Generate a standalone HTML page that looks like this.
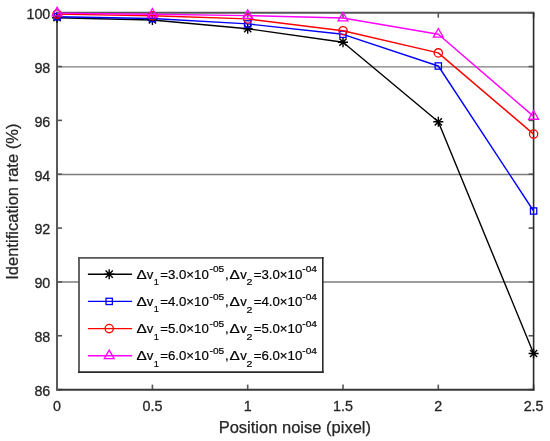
<!DOCTYPE html>
<html><head><meta charset="utf-8"><title>Identification rate vs position noise</title>
<style>html,body{margin:0;padding:0;background:#fff;width:550px;height:441px;overflow:hidden;position:relative}</style>
</head><body>
<svg width="550" height="441" viewBox="0 0 550 441" style="position:absolute;left:0;top:0">
<rect width="550" height="441" fill="#fff"/>
<line x1="57.1" y1="66.90" x2="533.6" y2="66.90" stroke="#7c7c7c" stroke-width="1.4"/>
<line x1="57.1" y1="174.50" x2="533.6" y2="174.50" stroke="#7c7c7c" stroke-width="1.4"/>
<line x1="57.1" y1="282.00" x2="533.6" y2="282.00" stroke="#7c7c7c" stroke-width="1.4"/>
<line x1="57.10" y1="389.6" x2="57.10" y2="384.6" stroke="#575757" stroke-width="1.6"/>
<line x1="57.10" y1="12.7" x2="57.10" y2="17.7" stroke="#575757" stroke-width="1.6"/>
<line x1="152.40" y1="389.6" x2="152.40" y2="384.6" stroke="#575757" stroke-width="1.6"/>
<line x1="152.40" y1="12.7" x2="152.40" y2="17.7" stroke="#575757" stroke-width="1.6"/>
<line x1="247.70" y1="389.6" x2="247.70" y2="384.6" stroke="#575757" stroke-width="1.6"/>
<line x1="247.70" y1="12.7" x2="247.70" y2="17.7" stroke="#575757" stroke-width="1.6"/>
<line x1="343.00" y1="389.6" x2="343.00" y2="384.6" stroke="#575757" stroke-width="1.6"/>
<line x1="343.00" y1="12.7" x2="343.00" y2="17.7" stroke="#575757" stroke-width="1.6"/>
<line x1="438.30" y1="389.6" x2="438.30" y2="384.6" stroke="#575757" stroke-width="1.6"/>
<line x1="438.30" y1="12.7" x2="438.30" y2="17.7" stroke="#575757" stroke-width="1.6"/>
<line x1="533.60" y1="389.6" x2="533.60" y2="384.6" stroke="#575757" stroke-width="1.6"/>
<line x1="533.60" y1="12.7" x2="533.60" y2="17.7" stroke="#575757" stroke-width="1.6"/>
<line x1="57.1" y1="389.60" x2="62.1" y2="389.60" stroke="#575757" stroke-width="1.6"/>
<line x1="533.6" y1="389.60" x2="528.6" y2="389.60" stroke="#575757" stroke-width="1.6"/>
<line x1="57.1" y1="335.76" x2="62.1" y2="335.76" stroke="#575757" stroke-width="1.6"/>
<line x1="533.6" y1="335.76" x2="528.6" y2="335.76" stroke="#575757" stroke-width="1.6"/>
<line x1="57.1" y1="281.91" x2="62.1" y2="281.91" stroke="#575757" stroke-width="1.6"/>
<line x1="533.6" y1="281.91" x2="528.6" y2="281.91" stroke="#575757" stroke-width="1.6"/>
<line x1="57.1" y1="228.07" x2="62.1" y2="228.07" stroke="#575757" stroke-width="1.6"/>
<line x1="533.6" y1="228.07" x2="528.6" y2="228.07" stroke="#575757" stroke-width="1.6"/>
<line x1="57.1" y1="174.23" x2="62.1" y2="174.23" stroke="#575757" stroke-width="1.6"/>
<line x1="533.6" y1="174.23" x2="528.6" y2="174.23" stroke="#575757" stroke-width="1.6"/>
<line x1="57.1" y1="120.39" x2="62.1" y2="120.39" stroke="#575757" stroke-width="1.6"/>
<line x1="533.6" y1="120.39" x2="528.6" y2="120.39" stroke="#575757" stroke-width="1.6"/>
<line x1="57.1" y1="66.54" x2="62.1" y2="66.54" stroke="#575757" stroke-width="1.6"/>
<line x1="533.6" y1="66.54" x2="528.6" y2="66.54" stroke="#575757" stroke-width="1.6"/>
<line x1="57.1" y1="12.70" x2="62.1" y2="12.70" stroke="#575757" stroke-width="1.6"/>
<line x1="533.6" y1="12.70" x2="528.6" y2="12.70" stroke="#575757" stroke-width="1.6"/>
<line x1="56.1" y1="12.85" x2="534.4" y2="12.85" stroke="#555555" stroke-width="2"/>
<line x1="56.1" y1="389.85" x2="534.4" y2="389.85" stroke="#383838" stroke-width="2"/>
<line x1="57.0" y1="11.7" x2="57.0" y2="390.6" stroke="#595959" stroke-width="2"/>
<line x1="533.6" y1="12.7" x2="533.6" y2="390.6" stroke="#2a2a2a" stroke-width="1.6"/>
<polyline points="57.10,17.70 152.40,20.00 247.70,28.70 343.00,42.20 438.30,121.80 533.60,353.50" stroke="#000000" stroke-width="1.4" fill="none" stroke-linejoin="round"/>
<path d="M52.10 17.70H62.10M57.10 12.70V22.70M53.50 14.10L60.70 21.30M53.50 21.30L60.70 14.10" stroke="#000000" stroke-width="1.4" fill="none"/>
<path d="M147.40 20.00H157.40M152.40 15.00V25.00M148.80 16.40L156.00 23.60M148.80 23.60L156.00 16.40" stroke="#000000" stroke-width="1.4" fill="none"/>
<path d="M242.70 28.70H252.70M247.70 23.70V33.70M244.10 25.10L251.30 32.30M244.10 32.30L251.30 25.10" stroke="#000000" stroke-width="1.4" fill="none"/>
<path d="M338.00 42.20H348.00M343.00 37.20V47.20M339.40 38.60L346.60 45.80M339.40 45.80L346.60 38.60" stroke="#000000" stroke-width="1.4" fill="none"/>
<path d="M433.30 121.80H443.30M438.30 116.80V126.80M434.70 118.20L441.90 125.40M434.70 125.40L441.90 118.20" stroke="#000000" stroke-width="1.4" fill="none"/>
<path d="M528.60 353.50H538.60M533.60 348.50V358.50M530.00 349.90L537.20 357.10M530.00 357.10L537.20 349.90" stroke="#000000" stroke-width="1.4" fill="none"/>
<polyline points="57.10,16.80 152.40,18.50 247.70,23.90 343.00,34.30 438.30,66.00 533.60,211.00" stroke="#0000ff" stroke-width="1.4" fill="none" stroke-linejoin="round"/>
<rect x="53.95" y="13.65" width="6.3" height="6.3" stroke="#0000ff" stroke-width="1.3" fill="none"/>
<rect x="149.25" y="15.35" width="6.3" height="6.3" stroke="#0000ff" stroke-width="1.3" fill="none"/>
<rect x="244.55" y="20.75" width="6.3" height="6.3" stroke="#0000ff" stroke-width="1.3" fill="none"/>
<rect x="339.85" y="31.15" width="6.3" height="6.3" stroke="#0000ff" stroke-width="1.3" fill="none"/>
<rect x="435.15" y="62.85" width="6.3" height="6.3" stroke="#0000ff" stroke-width="1.3" fill="none"/>
<rect x="530.45" y="207.85" width="6.3" height="6.3" stroke="#0000ff" stroke-width="1.3" fill="none"/>
<polyline points="57.10,14.10 152.40,15.70 247.70,18.90 343.00,30.70 438.30,52.90 533.60,134.10" stroke="#ff0000" stroke-width="1.4" fill="none" stroke-linejoin="round"/>
<circle cx="57.10" cy="14.10" r="4.15" stroke="#ff0000" stroke-width="1.3" fill="none"/>
<circle cx="152.40" cy="15.70" r="4.15" stroke="#ff0000" stroke-width="1.3" fill="none"/>
<circle cx="247.70" cy="18.90" r="4.15" stroke="#ff0000" stroke-width="1.3" fill="none"/>
<circle cx="343.00" cy="30.70" r="4.15" stroke="#ff0000" stroke-width="1.3" fill="none"/>
<circle cx="438.30" cy="52.90" r="4.15" stroke="#ff0000" stroke-width="1.3" fill="none"/>
<circle cx="533.60" cy="134.10" r="4.15" stroke="#ff0000" stroke-width="1.3" fill="none"/>
<polyline points="57.10,13.10 152.40,14.20 247.70,15.60 343.00,18.00 438.30,34.20 533.60,116.40" stroke="#ff00ff" stroke-width="1.4" fill="none" stroke-linejoin="round"/>
<path d="M57.10 7.37L62.05 15.97L52.15 15.97Z" stroke="#ff00ff" stroke-width="1.3" fill="none" stroke-linejoin="miter"/>
<path d="M152.40 8.47L157.35 17.07L147.45 17.07Z" stroke="#ff00ff" stroke-width="1.3" fill="none" stroke-linejoin="miter"/>
<path d="M247.70 9.87L252.65 18.47L242.75 18.47Z" stroke="#ff00ff" stroke-width="1.3" fill="none" stroke-linejoin="miter"/>
<path d="M343.00 12.27L347.95 20.87L338.05 20.87Z" stroke="#ff00ff" stroke-width="1.3" fill="none" stroke-linejoin="miter"/>
<path d="M438.30 28.47L443.25 37.07L433.35 37.07Z" stroke="#ff00ff" stroke-width="1.3" fill="none" stroke-linejoin="miter"/>
<path d="M533.60 110.67L538.55 119.27L528.65 119.27Z" stroke="#ff00ff" stroke-width="1.3" fill="none" stroke-linejoin="miter"/>
<text x="50.3" y="396.00" text-anchor="end" font-family="'Liberation Sans', Arial, Helvetica, sans-serif" font-size="14.3" fill="#262626" stroke="#262626" stroke-width="0.3">86</text>
<text x="50.3" y="342.16" text-anchor="end" font-family="'Liberation Sans', Arial, Helvetica, sans-serif" font-size="14.3" fill="#262626" stroke="#262626" stroke-width="0.3">88</text>
<text x="50.3" y="288.31" text-anchor="end" font-family="'Liberation Sans', Arial, Helvetica, sans-serif" font-size="14.3" fill="#262626" stroke="#262626" stroke-width="0.3">90</text>
<text x="50.3" y="234.47" text-anchor="end" font-family="'Liberation Sans', Arial, Helvetica, sans-serif" font-size="14.3" fill="#262626" stroke="#262626" stroke-width="0.3">92</text>
<text x="50.3" y="180.63" text-anchor="end" font-family="'Liberation Sans', Arial, Helvetica, sans-serif" font-size="14.3" fill="#262626" stroke="#262626" stroke-width="0.3">94</text>
<text x="50.3" y="126.79" text-anchor="end" font-family="'Liberation Sans', Arial, Helvetica, sans-serif" font-size="14.3" fill="#262626" stroke="#262626" stroke-width="0.3">96</text>
<text x="50.3" y="72.94" text-anchor="end" font-family="'Liberation Sans', Arial, Helvetica, sans-serif" font-size="14.3" fill="#262626" stroke="#262626" stroke-width="0.3">98</text>
<text x="50.3" y="19.10" text-anchor="end" font-family="'Liberation Sans', Arial, Helvetica, sans-serif" font-size="14.3" fill="#262626" stroke="#262626" stroke-width="0.3">100</text>
<text x="57.10" y="411" text-anchor="middle" font-family="'Liberation Sans', Arial, Helvetica, sans-serif" font-size="14.3" fill="#262626" stroke="#262626" stroke-width="0.3">0</text>
<text x="152.40" y="411" text-anchor="middle" font-family="'Liberation Sans', Arial, Helvetica, sans-serif" font-size="14.3" fill="#262626" stroke="#262626" stroke-width="0.3">0.5</text>
<text x="247.70" y="411" text-anchor="middle" font-family="'Liberation Sans', Arial, Helvetica, sans-serif" font-size="14.3" fill="#262626" stroke="#262626" stroke-width="0.3">1</text>
<text x="343.00" y="411" text-anchor="middle" font-family="'Liberation Sans', Arial, Helvetica, sans-serif" font-size="14.3" fill="#262626" stroke="#262626" stroke-width="0.3">1.5</text>
<text x="438.30" y="411" text-anchor="middle" font-family="'Liberation Sans', Arial, Helvetica, sans-serif" font-size="14.3" fill="#262626" stroke="#262626" stroke-width="0.3">2</text>
<text x="533.60" y="411" text-anchor="middle" font-family="'Liberation Sans', Arial, Helvetica, sans-serif" font-size="14.3" fill="#262626" stroke="#262626" stroke-width="0.3">2.5</text>
<text x="218.66" y="433.0" textLength="152.38" lengthAdjust="spacingAndGlyphs" font-family="'Liberation Sans', Arial, Helvetica, sans-serif" font-size="16.4" fill="#262626" stroke="#262626" stroke-width="0.25">Position noise (pixel)</text>
<text transform="translate(18.3,279.81) rotate(-90)" textLength="156.25" lengthAdjust="spacingAndGlyphs" font-family="'Liberation Sans', Arial, Helvetica, sans-serif" font-size="16.4" fill="#262626" stroke="#262626" stroke-width="0.25">Identification rate (%)</text>
<rect x="79.0" y="257.9" width="243.80" height="114.20" fill="#fff"/>
<line x1="78.1" y1="257.9" x2="323.6" y2="257.9" stroke="#555555" stroke-width="1.8"/>
<line x1="79.0" y1="257.0" x2="79.0" y2="373.0" stroke="#555555" stroke-width="1.8"/>
<line x1="322.8" y1="257.0" x2="322.8" y2="372.9" stroke="#2a2a2a" stroke-width="1.6"/>
<line x1="78.1" y1="372.1" x2="323.6" y2="372.1" stroke="#2a2a2a" stroke-width="1.6"/>
<line x1="87.9" y1="274.2" x2="132.1" y2="274.2" stroke="#000000" stroke-width="1.4"/>
<path d="M104.20 274.20H114.20M109.20 269.20V279.20M105.60 270.60L112.80 277.80M105.60 277.80L112.80 270.60" stroke="#000000" stroke-width="1.4" fill="none"/>
<text x="136.44" y="278.70" font-family="'Liberation Sans', Arial, Helvetica, sans-serif" font-size="13.1" fill="#000" stroke="#000" stroke-width="0.2" textLength="10.33" lengthAdjust="spacingAndGlyphs">Δ</text>
<text x="146.66" y="278.70" font-family="'Liberation Sans', Arial, Helvetica, sans-serif" font-size="13.1" fill="#000" stroke="#000" stroke-width="0.2">v</text>
<text x="153.80" y="285.10" font-family="'Liberation Sans', Arial, Helvetica, sans-serif" font-size="9.2" fill="#000" stroke="#000" stroke-width="0.2">1</text>
<text x="160.15" y="278.70" font-family="'Liberation Sans', Arial, Helvetica, sans-serif" font-size="13.1" fill="#000" stroke="#000" stroke-width="0.2" textLength="48.67" lengthAdjust="spacingAndGlyphs">=3.0×10</text>
<text x="209.55" y="272.30" font-family="'Liberation Sans', Arial, Helvetica, sans-serif" font-size="8.8" fill="#000" stroke="#000" stroke-width="0.2" textLength="14.68" lengthAdjust="spacingAndGlyphs">-05</text>
<text x="225.02" y="278.70" font-family="'Liberation Sans', Arial, Helvetica, sans-serif" font-size="13.1" fill="#000" stroke="#000" stroke-width="0.2">,</text>
<text x="229.64" y="278.70" font-family="'Liberation Sans', Arial, Helvetica, sans-serif" font-size="13.1" fill="#000" stroke="#000" stroke-width="0.2" textLength="10.33" lengthAdjust="spacingAndGlyphs">Δ</text>
<text x="240.16" y="278.70" font-family="'Liberation Sans', Arial, Helvetica, sans-serif" font-size="13.1" fill="#000" stroke="#000" stroke-width="0.2">v</text>
<text x="246.57" y="285.40" font-family="'Liberation Sans', Arial, Helvetica, sans-serif" font-size="9.2" fill="#000" stroke="#000" stroke-width="0.2" textLength="5.88" lengthAdjust="spacingAndGlyphs">2</text>
<text x="253.65" y="278.70" font-family="'Liberation Sans', Arial, Helvetica, sans-serif" font-size="13.1" fill="#000" stroke="#000" stroke-width="0.2" textLength="48.67" lengthAdjust="spacingAndGlyphs">=3.0×10</text>
<text x="302.35" y="272.30" font-family="'Liberation Sans', Arial, Helvetica, sans-serif" font-size="8.8" fill="#000" stroke="#000" stroke-width="0.2" textLength="14.68" lengthAdjust="spacingAndGlyphs">-04</text>
<line x1="87.9" y1="301.4" x2="132.1" y2="301.4" stroke="#0000ff" stroke-width="1.4"/>
<rect x="106.05" y="298.25" width="6.3" height="6.3" stroke="#0000ff" stroke-width="1.3" fill="none"/>
<text x="136.44" y="305.90" font-family="'Liberation Sans', Arial, Helvetica, sans-serif" font-size="13.1" fill="#000" stroke="#000" stroke-width="0.2" textLength="10.33" lengthAdjust="spacingAndGlyphs">Δ</text>
<text x="146.66" y="305.90" font-family="'Liberation Sans', Arial, Helvetica, sans-serif" font-size="13.1" fill="#000" stroke="#000" stroke-width="0.2">v</text>
<text x="153.80" y="312.30" font-family="'Liberation Sans', Arial, Helvetica, sans-serif" font-size="9.2" fill="#000" stroke="#000" stroke-width="0.2">1</text>
<text x="160.15" y="305.90" font-family="'Liberation Sans', Arial, Helvetica, sans-serif" font-size="13.1" fill="#000" stroke="#000" stroke-width="0.2" textLength="48.67" lengthAdjust="spacingAndGlyphs">=4.0×10</text>
<text x="209.55" y="299.50" font-family="'Liberation Sans', Arial, Helvetica, sans-serif" font-size="8.8" fill="#000" stroke="#000" stroke-width="0.2" textLength="14.68" lengthAdjust="spacingAndGlyphs">-05</text>
<text x="225.02" y="305.90" font-family="'Liberation Sans', Arial, Helvetica, sans-serif" font-size="13.1" fill="#000" stroke="#000" stroke-width="0.2">,</text>
<text x="229.64" y="305.90" font-family="'Liberation Sans', Arial, Helvetica, sans-serif" font-size="13.1" fill="#000" stroke="#000" stroke-width="0.2" textLength="10.33" lengthAdjust="spacingAndGlyphs">Δ</text>
<text x="240.16" y="305.90" font-family="'Liberation Sans', Arial, Helvetica, sans-serif" font-size="13.1" fill="#000" stroke="#000" stroke-width="0.2">v</text>
<text x="246.57" y="312.60" font-family="'Liberation Sans', Arial, Helvetica, sans-serif" font-size="9.2" fill="#000" stroke="#000" stroke-width="0.2" textLength="5.88" lengthAdjust="spacingAndGlyphs">2</text>
<text x="253.65" y="305.90" font-family="'Liberation Sans', Arial, Helvetica, sans-serif" font-size="13.1" fill="#000" stroke="#000" stroke-width="0.2" textLength="48.67" lengthAdjust="spacingAndGlyphs">=4.0×10</text>
<text x="302.35" y="299.50" font-family="'Liberation Sans', Arial, Helvetica, sans-serif" font-size="8.8" fill="#000" stroke="#000" stroke-width="0.2" textLength="14.68" lengthAdjust="spacingAndGlyphs">-04</text>
<line x1="87.9" y1="328.6" x2="132.1" y2="328.6" stroke="#ff0000" stroke-width="1.4"/>
<circle cx="109.20" cy="328.60" r="4.15" stroke="#ff0000" stroke-width="1.3" fill="none"/>
<text x="136.44" y="333.10" font-family="'Liberation Sans', Arial, Helvetica, sans-serif" font-size="13.1" fill="#000" stroke="#000" stroke-width="0.2" textLength="10.33" lengthAdjust="spacingAndGlyphs">Δ</text>
<text x="146.66" y="333.10" font-family="'Liberation Sans', Arial, Helvetica, sans-serif" font-size="13.1" fill="#000" stroke="#000" stroke-width="0.2">v</text>
<text x="153.80" y="339.50" font-family="'Liberation Sans', Arial, Helvetica, sans-serif" font-size="9.2" fill="#000" stroke="#000" stroke-width="0.2">1</text>
<text x="160.15" y="333.10" font-family="'Liberation Sans', Arial, Helvetica, sans-serif" font-size="13.1" fill="#000" stroke="#000" stroke-width="0.2" textLength="48.67" lengthAdjust="spacingAndGlyphs">=5.0×10</text>
<text x="209.55" y="326.70" font-family="'Liberation Sans', Arial, Helvetica, sans-serif" font-size="8.8" fill="#000" stroke="#000" stroke-width="0.2" textLength="14.68" lengthAdjust="spacingAndGlyphs">-05</text>
<text x="225.02" y="333.10" font-family="'Liberation Sans', Arial, Helvetica, sans-serif" font-size="13.1" fill="#000" stroke="#000" stroke-width="0.2">,</text>
<text x="229.64" y="333.10" font-family="'Liberation Sans', Arial, Helvetica, sans-serif" font-size="13.1" fill="#000" stroke="#000" stroke-width="0.2" textLength="10.33" lengthAdjust="spacingAndGlyphs">Δ</text>
<text x="240.16" y="333.10" font-family="'Liberation Sans', Arial, Helvetica, sans-serif" font-size="13.1" fill="#000" stroke="#000" stroke-width="0.2">v</text>
<text x="246.57" y="339.80" font-family="'Liberation Sans', Arial, Helvetica, sans-serif" font-size="9.2" fill="#000" stroke="#000" stroke-width="0.2" textLength="5.88" lengthAdjust="spacingAndGlyphs">2</text>
<text x="253.65" y="333.10" font-family="'Liberation Sans', Arial, Helvetica, sans-serif" font-size="13.1" fill="#000" stroke="#000" stroke-width="0.2" textLength="48.67" lengthAdjust="spacingAndGlyphs">=5.0×10</text>
<text x="302.35" y="326.70" font-family="'Liberation Sans', Arial, Helvetica, sans-serif" font-size="8.8" fill="#000" stroke="#000" stroke-width="0.2" textLength="14.68" lengthAdjust="spacingAndGlyphs">-04</text>
<line x1="87.9" y1="355.8" x2="132.1" y2="355.8" stroke="#ff00ff" stroke-width="1.4"/>
<path d="M109.20 350.07L114.15 358.67L104.25 358.67Z" stroke="#ff00ff" stroke-width="1.3" fill="none" stroke-linejoin="miter"/>
<text x="136.44" y="360.30" font-family="'Liberation Sans', Arial, Helvetica, sans-serif" font-size="13.1" fill="#000" stroke="#000" stroke-width="0.2" textLength="10.33" lengthAdjust="spacingAndGlyphs">Δ</text>
<text x="146.66" y="360.30" font-family="'Liberation Sans', Arial, Helvetica, sans-serif" font-size="13.1" fill="#000" stroke="#000" stroke-width="0.2">v</text>
<text x="153.80" y="366.70" font-family="'Liberation Sans', Arial, Helvetica, sans-serif" font-size="9.2" fill="#000" stroke="#000" stroke-width="0.2">1</text>
<text x="160.15" y="360.30" font-family="'Liberation Sans', Arial, Helvetica, sans-serif" font-size="13.1" fill="#000" stroke="#000" stroke-width="0.2" textLength="48.67" lengthAdjust="spacingAndGlyphs">=6.0×10</text>
<text x="209.55" y="353.90" font-family="'Liberation Sans', Arial, Helvetica, sans-serif" font-size="8.8" fill="#000" stroke="#000" stroke-width="0.2" textLength="14.68" lengthAdjust="spacingAndGlyphs">-05</text>
<text x="225.02" y="360.30" font-family="'Liberation Sans', Arial, Helvetica, sans-serif" font-size="13.1" fill="#000" stroke="#000" stroke-width="0.2">,</text>
<text x="229.64" y="360.30" font-family="'Liberation Sans', Arial, Helvetica, sans-serif" font-size="13.1" fill="#000" stroke="#000" stroke-width="0.2" textLength="10.33" lengthAdjust="spacingAndGlyphs">Δ</text>
<text x="240.16" y="360.30" font-family="'Liberation Sans', Arial, Helvetica, sans-serif" font-size="13.1" fill="#000" stroke="#000" stroke-width="0.2">v</text>
<text x="246.57" y="367.00" font-family="'Liberation Sans', Arial, Helvetica, sans-serif" font-size="9.2" fill="#000" stroke="#000" stroke-width="0.2" textLength="5.88" lengthAdjust="spacingAndGlyphs">2</text>
<text x="253.65" y="360.30" font-family="'Liberation Sans', Arial, Helvetica, sans-serif" font-size="13.1" fill="#000" stroke="#000" stroke-width="0.2" textLength="48.67" lengthAdjust="spacingAndGlyphs">=6.0×10</text>
<text x="302.35" y="353.90" font-family="'Liberation Sans', Arial, Helvetica, sans-serif" font-size="8.8" fill="#000" stroke="#000" stroke-width="0.2" textLength="14.68" lengthAdjust="spacingAndGlyphs">-04</text>
</svg>
</body></html>
